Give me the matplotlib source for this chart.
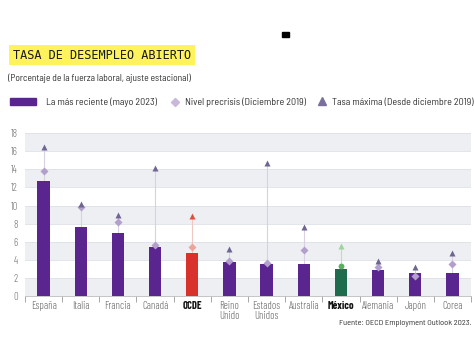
import matplotlib.pyplot as plt
from matplotlib.patches import Patch, Rectangle
from matplotlib.lines import Line2D

plt.rcParams['font.family'] = ['Barlow Condensed', 'DejaVu Sans']

countries = ['España', 'Italia', 'Francia', 'Canadá', 'OCDE', 'Reino\nUnido',
             'Estados\nUnidos', 'Australia', 'México', 'Alemania', 'Japón', 'Corea']
latest = [12.7, 7.6, 7.0, 5.4, 4.8, 3.8, 3.5, 3.5, 3.0, 2.9, 2.6, 2.5]
precrisis = [13.8, 9.8, 8.2, 5.6, 5.4, 3.9, 3.6, 5.1, 3.3, 3.2, 2.2, 3.5]
peak = [16.5, 10.2, 9.0, 14.1, 8.8, 5.2, 14.7, 7.6, 5.5, 3.9, 3.2, 4.8]
yticks = list(range(0, 19, 2))

purple = '#5b2590'
bar_colors = [purple] * len(countries)
diamond_colors = ['#b39fcb'] * len(countries)
tri_colors = ['#6f6590'] * len(countries)
stem_colors = ['#d9d0e3'] * len(countries)
bar_colors[4], diamond_colors[4], tri_colors[4], stem_colors[4] = '#d9312b', '#eba59b', '#e0503f', '#f0c8c2'
bar_colors[8], diamond_colors[8], tri_colors[8], stem_colors[8] = '#1f6b4d', '#56b060', '#9cd49c', '#b9e0b9'

fig = plt.figure(figsize=(4.74, 3.55), dpi=100)
ax = fig.add_axes([0.0527, 0.166, 0.9410, 0.459])

# banded background
for lo in range(0, 18, 4):
    ax.axhspan(lo, lo + 2, color='#edeff3', zorder=0, lw=0)
for y in yticks:
    ax.axhline(y, color='#dde0e5', lw=0.6, zorder=0.5)

x = list(range(len(countries)))
for i in x:
    top = max(latest[i], precrisis[i], peak[i])
    ax.plot([i, i], [latest[i], top], color=stem_colors[i], lw=0.8, zorder=1)
ax.bar(x, latest, width=0.33, color=bar_colors, zorder=2)
for i in x:
    mk = 'o' if i == 8 else 'D'
    ax.plot(i, precrisis[i], marker=mk, ms=4 if mk == 'D' else 4.2, color=diamond_colors[i],
            mec='none', zorder=3)
    ax.plot(i, peak[i], marker='^', ms=5, color=tri_colors[i], mec='none', zorder=3)

ax.set_xlim(-0.5, len(countries) - 0.5)
ax.set_ylim(0, 18)
ax.set_yticks(yticks)
ax.set_xticks(x)
ax.set_xticklabels(countries, fontsize=7.6, color='#666666', linespacing=1.0, fontweight=300)
for lab, c in zip(ax.get_xticklabels(), countries):
    if c in ('OCDE', 'México'):
        lab.set_fontweight(700)
        lab.set_color('#111111')
ax.tick_params(axis='x', length=0, pad=3.5)
ax.tick_params(axis='y', length=0, pad=5, labelsize=7.6, labelcolor='#777777')
for lab in ax.get_yticklabels():
    lab.set_fontweight(300)
ax.set_xticks([i - 0.5 for i in range(len(countries) + 1)], minor=True)
ax.tick_params(axis='x', which='minor', length=4.5, width=0.6, color='#999999', direction='out')
for s in ['top', 'right', 'left']:
    ax.spines[s].set_visible(False)
ax.spines['bottom'].set_color('#bbbbbb')
ax.spines['bottom'].set_linewidth(0.6)

# header
fig.text(0.027, 0.845, 'TASA DE DESEMPLEO ABIERTO', family='DejaVu Sans Mono', fontsize=8.6,
         color='#1a1a1a', va='center',
         bbox=dict(boxstyle='square,pad=0.32', fc='#fff35c', ec='none'))
fig.text(0.017, 0.779, '(Porcentaje de la fuerza laboral, ajuste estacional)', fontsize=6.9,
         color='#333333', va='center', family='Barlow Semi Condensed')
fig.patches.append(Rectangle((0.594, 0.897), 0.016, 0.014, transform=fig.transFigure,
                             color='black', figure=fig))

legend_items = [
    (Patch(color=purple), 'La más reciente (mayo 2023)', 10, 2.6, 1.0),
    (Line2D([], [], marker='D', ls='none', color='#c9b7dc', ms=4), 'Nivel precrisis (Diciembre 2019)', 170, 1.0, 0.5),
    (Line2D([], [], marker='^', ls='none', color='#7b6f9e', ms=5.5), 'Tasa máxima (Desde diciembre 2019)', 317, 1.0, 0.5),
]
for h, lab, px, hl, tp in legend_items:
    fig.legend([h], [lab], loc='center left', bbox_to_anchor=(px / 474, 0.712),
               frameon=False, borderpad=0, borderaxespad=0, handlelength=hl, handleheight=0.6,
               handletextpad=tp, prop={'family': 'Barlow Semi Condensed', 'size': 7.2},
               labelcolor='#333333')

fig.text(0.994, 0.09, 'Fuente: OECD Employment Outlook 2023.', fontsize=6, ha='right',
         color='#333333', va='center', family='Barlow Semi Condensed')

fig.savefig('out.png', dpi=100, facecolor='white')
